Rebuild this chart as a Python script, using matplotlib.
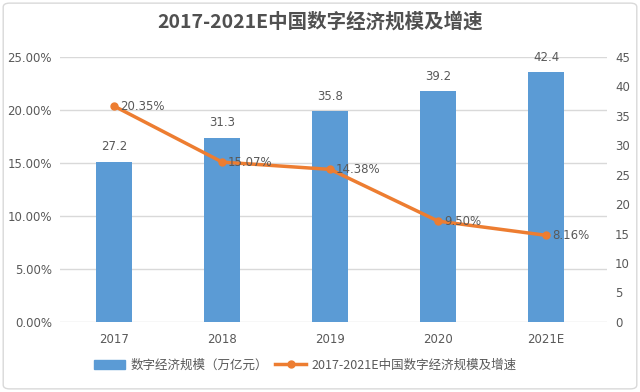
import matplotlib.pyplot as plt
from matplotlib.patches import FancyBboxPatch
from matplotlib.transforms import blended_transform_factory
import numpy as np

plt.rcParams['font.family'] = ['DejaVu Sans', 'Noto Sans CJK SC']

# Data
years = ['2017', '2018', '2019', '2020', '2021E']
scale = [27.2, 31.3, 35.8, 39.2, 42.4]          # 万亿元, right axis
growth = [20.35, 15.07, 14.38, 9.50, 8.16]     # %, left axis

bar_color = '#5B9BD5'
line_color = '#ED7D31'
text_color = '#595959'
cjk = ['Noto Sans CJK SC', 'DejaVu Sans']

fig = plt.figure(figsize=(6.4, 3.92), dpi=100)
ax = fig.add_axes([0.094, 0.179, 0.854, 0.676])
ax2 = ax.twinx()

x = np.arange(len(years))
ax.set_ylim(0, 25)
ax2.set_ylim(0, 45)

# Grid lines (left-axis ticks), drawn behind the bars
grid_tr = blended_transform_factory(ax2.transAxes, ax.transData)
for t in np.arange(0, 26, 5):
    ax2.plot([0, 1], [t, t], transform=grid_tr, color='#D9D9D9', linewidth=1, zorder=0)

# Bars on the right axis
ax2.bar(x, scale, width=0.33, color=bar_color, zorder=2)
for xi, v in zip(x, scale):
    ax2.annotate(f'{v}', (xi, v), xytext=(0, 6), textcoords='offset points',
                 ha='center', va='bottom', fontsize=8.5, color=text_color)
ax2.set_yticks(np.arange(0, 46, 5))

# Line on the left axis, drawn above the bars
ax.set_zorder(ax2.get_zorder() + 1)
ax.patch.set_visible(False)
ax.plot(x, growth, color=line_color, linewidth=2.5, marker='o', markersize=5, zorder=3)
for xi, v in zip(x, growth):
    ax.annotate(f'{v:.2f}%', (xi, v), xytext=(4, 0), textcoords='offset points',
                ha='left', va='center', fontsize=8.5, color=text_color)
ax.set_yticks(np.arange(0, 26, 5))
ax.set_yticklabels([f'{t:.2f}%' for t in np.arange(0, 26, 5)])
ax.set_xlim(-0.5, len(years) - 0.5 + 0.06)
ax.set_xticks(x)
ax.set_xticklabels(years)

for a in (ax, ax2):
    for s in a.spines.values():
        s.set_visible(False)
    a.tick_params(length=0, colors=text_color, labelsize=8.5)
ax.tick_params(axis='y', pad=6)
ax.tick_params(axis='x', pad=8)
ax2.tick_params(axis='y', pad=6)

fig.text(0.5, 0.945, '2017-2021E中国数字经济规模及增速', ha='center', va='center',
         fontsize=14, fontweight='bold', color='#505050', family=cjk)

# Legend
h_bar = plt.Rectangle((0, 0), 1, 1, color=bar_color)
h_line, = ax.plot([], [], color=line_color, linewidth=2.5, marker='o', markersize=5)
fig.legend([h_bar, h_line], ['数字经济规模（万亿元）', '2017-2021E中国数字经济规模及增速'],
           loc='center', bbox_to_anchor=(0.477, 0.068), ncol=2, frameon=False,
           prop={'family': cjk, 'size': 9}, labelcolor=text_color,
           handlelength=2.5, columnspacing=0.6, handletextpad=0.4)

# Outer border
fig.patches.append(FancyBboxPatch((0.005, 0.008), 0.99, 0.984, transform=fig.transFigure,
                                  boxstyle='round,pad=0,rounding_size=0.01',
                                  facecolor='none', edgecolor='#D9D9D9', linewidth=1))

fig.savefig('out.png', dpi=100)
